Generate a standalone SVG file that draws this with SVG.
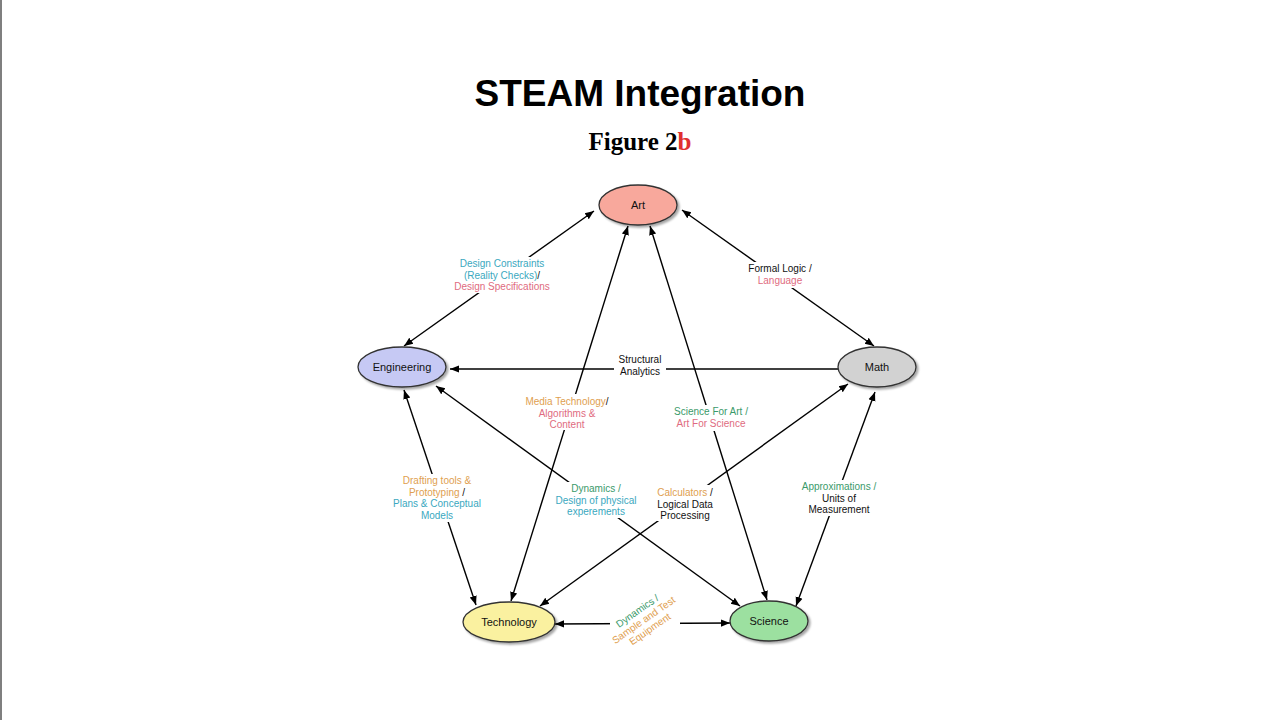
<svg xmlns="http://www.w3.org/2000/svg" width="1280" height="720" viewBox="0 0 1280 720">
<defs>
<marker id="ah" viewBox="0 0 10 10" refX="10" refY="5" markerWidth="9" markerHeight="9" markerUnits="userSpaceOnUse" orient="auto-start-reverse"><path d="M0,1 L10,5 L0,9 z" fill="#000"/></marker>
<filter id="sh" x="-20%" y="-20%" width="150%" height="150%"><feDropShadow dx="2" dy="2" stdDeviation="1.2" flood-color="#000" flood-opacity="0.35"/></filter>
</defs>
<style>
.e{stroke:#000;stroke-width:1.4;fill:none;marker-start:url(#ah);marker-end:url(#ah)}
.n{stroke:#333;stroke-width:1.3;filter:url(#sh)}
.t{font-family:"Liberation Sans",Arial,sans-serif;font-size:11px;text-anchor:middle;fill:#111}
.l{font-family:"Liberation Sans",Arial,sans-serif;font-size:10px;text-anchor:middle}
.c{fill:#3aa8c0}.p{fill:#e06b80}.o{fill:#e0a050}.g{fill:#3a9a6a}.k{fill:#111}
.bg{fill:#fff}
</style>
<rect width="1280" height="720" fill="#fff"/>
<line x1="1" y1="0" x2="1" y2="720" stroke="#555" stroke-width="1.5"/>
<text x="640" y="106" font-family="Liberation Sans,Arial,sans-serif" font-size="37" font-weight="bold" text-anchor="middle">STEAM Integration</text>
<text x="640" y="150" font-family="Liberation Serif,Times New Roman,serif" font-size="25" font-weight="bold" text-anchor="middle">Figure 2<tspan fill="#e03030">b</tspan></text>
<g id="connectors">
<line class="e" x1="594" y1="211" x2="404" y2="346"/>
<line class="e" x1="682" y1="210" x2="874" y2="346"/>
<line class="e" x1="838" y1="369" x2="450" y2="369" style="marker-start:none"/>
<line class="e" x1="628" y1="226" x2="511" y2="601"/>
<line class="e" x1="650" y1="226" x2="767" y2="600"/>
<line class="e" x1="404" y1="390" x2="476" y2="605"/>
<line class="e" x1="436" y1="386" x2="740" y2="606"/>
<line class="e" x1="848" y1="384" x2="540" y2="606"/>
<line class="e" x1="875" y1="392" x2="796" y2="606"/>
<line class="e" x1="555" y1="624" x2="730" y2="623"/>
<rect class="bg" x="452" y="257" width="102" height="36"/>
<rect class="bg" x="744" y="262" width="72" height="26"/>
<rect class="bg" x="614" y="353" width="52" height="26"/>
<rect class="bg" x="520" y="394" width="94" height="36"/>
<rect class="bg" x="670" y="405" width="82" height="26"/>
<rect class="bg" x="392" y="474" width="94" height="48"/>
<rect class="bg" x="552" y="482" width="88" height="36"/>
<rect class="bg" x="654" y="485" width="62" height="36"/>
<rect class="bg" x="800" y="480" width="78" height="36"/>
<rect class="bg" x="610" y="600" width="70" height="44"/>
<text class="l" x="502" y="267"><tspan class="c">Design Constraints</tspan><tspan class="c" x="502" dy="11.5">(Reality Checks)</tspan><tspan class="k">/</tspan><tspan class="p" x="502" dy="11.5">Design Specifications</tspan></text>
<text class="l" x="780" y="272"><tspan class="k">Formal Logic /</tspan><tspan class="p" x="780" dy="11.5">Language</tspan></text>
<text class="l" x="640" y="363"><tspan class="k">Structural</tspan><tspan class="k" x="640" dy="11.5">Analytics</tspan></text>
<text class="l" x="567" y="405"><tspan class="o">Media Technology</tspan><tspan class="k">/</tspan><tspan class="p" x="567" dy="11.5">Algorithms &amp;</tspan><tspan class="p" x="567" dy="11.5">Content</tspan></text>
<text class="l" x="711" y="415"><tspan class="g">Science For Art /</tspan><tspan class="p" x="711" dy="11.5">Art For Science</tspan></text>
<text class="l" x="437" y="484"><tspan class="o">Drafting tools &amp;</tspan><tspan class="o" x="437" dy="11.5">Prototyping</tspan><tspan class="k"> /</tspan><tspan class="c" x="437" dy="11.5">Plans &amp; Conceptual</tspan><tspan class="c" x="437" dy="11.5">Models</tspan></text>
<text class="l" x="596" y="492"><tspan class="g">Dynamics /</tspan><tspan class="c" x="596" dy="11.5">Design of physical</tspan><tspan class="c" x="596" dy="11.5">experements</tspan></text>
<text class="l" x="685" y="496"><tspan class="o">Calculators</tspan><tspan class="k"> /</tspan><tspan class="k" x="685" dy="11.5">Logical Data</tspan><tspan class="k" x="685" dy="11.5">Processing</tspan></text>
<text class="l" x="839" y="490"><tspan class="g">Approximations /</tspan><tspan class="k" x="839" dy="11.5">Units of</tspan><tspan class="k" x="839" dy="11.5">Measurement</tspan></text>
<text class="l" transform="translate(645,622) rotate(-35)" font-size="9.5"><tspan class="g" x="0" y="-10">Dynamics /</tspan><tspan class="o" x="0" y="1">Sample and Test</tspan><tspan class="o" x="0" y="12">Equipment</tspan></text>
</g>
<g id="art"><ellipse class="n" cx="638" cy="205" rx="39" ry="20" fill="#f8a89c"/><text class="t" x="638" y="209">Art</text></g>
<g id="engineering"><ellipse class="n" cx="402" cy="367" rx="44" ry="20" fill="#c6c9f4"/><text class="t" x="402" y="371">Engineering</text></g>
<g id="math"><ellipse class="n" cx="877" cy="367" rx="39" ry="20" fill="#d2d2d2"/><text class="t" x="877" y="371">Math</text></g>
<g id="technology"><ellipse class="n" cx="509" cy="622" rx="46" ry="20" fill="#faf1a0"/><text class="t" x="509" y="626">Technology</text></g>
<g id="science"><ellipse class="n" cx="769" cy="621" rx="39" ry="20" fill="#9ce0a0"/><text class="t" x="769" y="625">Science</text></g>
</svg>
